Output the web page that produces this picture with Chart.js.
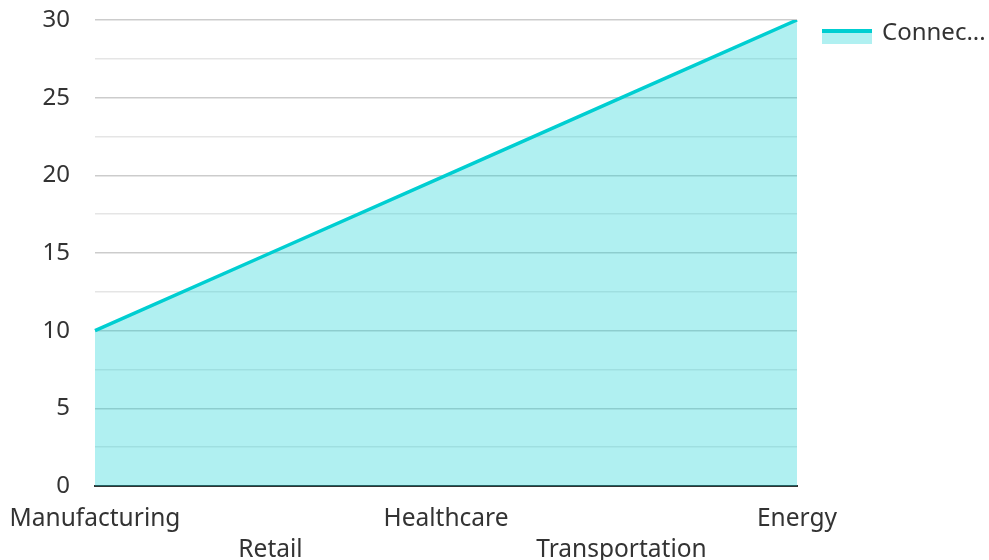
<!DOCTYPE html>
<html>
<head>
<meta charset="utf-8">
<script src="https://cdn.jsdelivr.net/npm/chart.js@4"></script>
<style>
html,body{margin:0;padding:0;background:#fff;}
#wrap{width:989px;height:560px;position:relative;}
</style>
</head>
<body>
<div id="wrap"><canvas id="c" width="989" height="560"></canvas></div>
<script>
const categories = ['Manufacturing', 'Retail', 'Healthcare', 'Transportation', 'Energy'];
const seriesName = 'Connec...';
const seriesValues = [10, 15, 20, 25, 30];
const yTicks = [0, 5, 10, 15, 20, 25, 30];

const lineColor = '#00CED1';
const fillColor = 'rgba(0,206,209,0.31)';
const textColor = '#333333';
const fontFamily = "'Noto Sans', 'Open Sans', sans-serif";

const legendPlugin = {
  id: 'customLegend',
  afterDraw(chart) {
    const ctx = chart.ctx;
    ctx.save();
    ctx.fillStyle = fillColor;
    ctx.fillRect(822, 31, 50, 13);
    ctx.fillStyle = lineColor;
    ctx.fillRect(822, 29, 50, 4);
    ctx.fillStyle = textColor;
    ctx.font = '24px ' + fontFamily;
    ctx.textBaseline = 'middle';
    ctx.textAlign = 'left';
    ctx.fillText(seriesName, 882, 33);
    ctx.restore();
  }
};

new Chart(document.getElementById('c'), {
  type: 'line',
  data: {
    labels: categories,
    datasets: [{
      label: seriesName,
      data: seriesValues,
      borderColor: lineColor,
      backgroundColor: fillColor,
      borderWidth: 3.5,
      fill: 'origin',
      tension: 0,
      pointRadius: 0,
      pointHoverRadius: 0
    }]
  },
  options: {
    responsive: false,
    animation: false,
    layout: { padding: { top: 0, right: 192, left: 0, bottom: 0 } },
    plugins: {
      legend: { display: false },
      tooltip: { enabled: false }
    },
    scales: {
      x: {
        offset: false,
        border: { display: true, color: '#333333', width: 2 },
        grid: { display: false, drawTicks: false },
        afterFit(s) { s.height = 74; s.paddingLeft = 0; s.paddingRight = 0; },
        ticks: {
          autoSkip: false,
          maxRotation: 0,
          minRotation: 0,
          padding: 17,
          color: textColor,
          font: { family: fontFamily, size: 24.5, lineHeight: 1.27 },
          callback(v, i) {
            const l = categories[i];
            return i % 2 === 1 ? ['', l] : l;
          }
        }
      },
      y: {
        min: 0,
        max: 30,
        border: { display: false },
        afterFit(s) { s.width = 95; s.paddingTop = 20; s.paddingBottom = 0; },
        grid: {
          drawTicks: false,
          color(ctx) {
            const v = ctx.tick ? ctx.tick.value : 0;
            if (v === 0) return 'rgba(0,0,0,0)';
            return (v % 5 === 0) ? 'rgba(0,0,0,0.2)' : 'rgba(0,0,0,0.1)';
          },
          lineWidth: 1.5
        },
        ticks: {
          stepSize: 2.5,
          padding: 25,
          color: textColor,
          font: { family: fontFamily, size: 24 },
          callback(v) { return yTicks.includes(v) ? String(v) : ''; }
        }
      }
    }
  },
  plugins: [legendPlugin]
});
</script>
</body>
</html>
